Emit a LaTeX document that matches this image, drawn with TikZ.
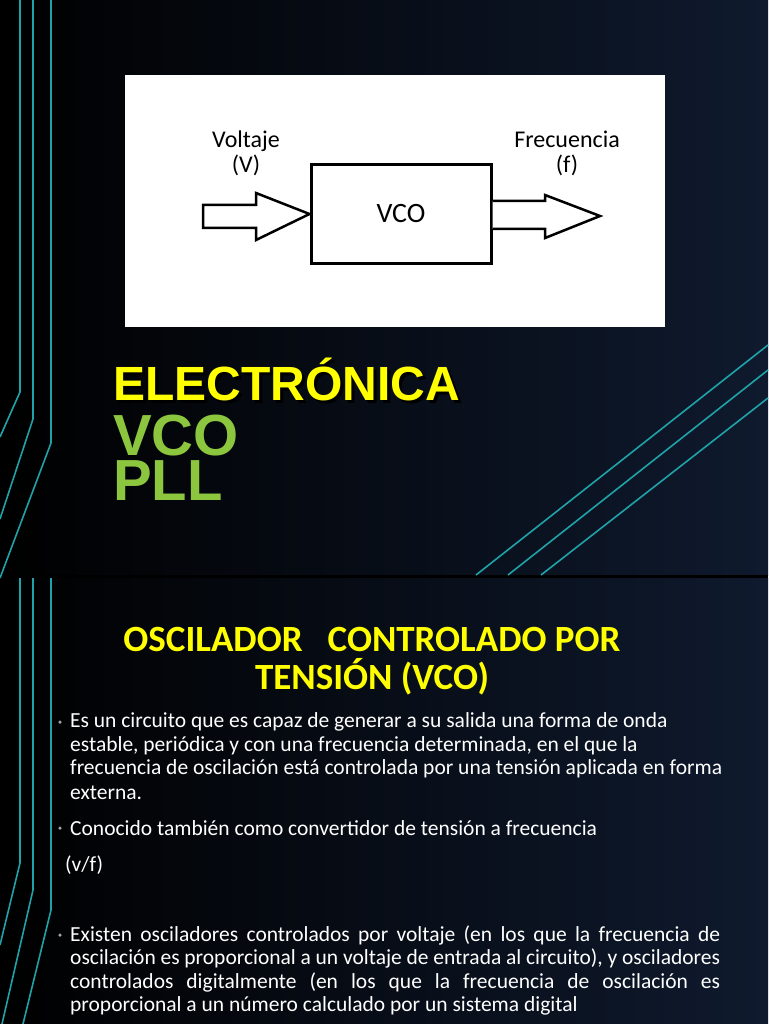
\documentclass[tikz,border=0pt]{standalone}
\usepackage{fontspec}
\setmainfont{Carlito}
\newfontfamily\heavy{Liberation Sans}
\definecolor{teal1}{HTML}{1FA3A8}
\definecolor{ylw}{HTML}{FFFF00}
\definecolor{grn}{HTML}{8CC63F}
\definecolor{bgR}{HTML}{0F1A2E}
\tikzset{
 deco/.style={teal1,line width=1.6pt},
 body/.style={anchor=west,text=white,font=\fontsize{21.5}{24}\selectfont,inner sep=0},
 bul/.style={circle,fill=gray!70,inner sep=0,minimum size=3.5pt},
 blk/.style={draw=black,line width=3pt,fill=white},
 lab/.style={font=\fontsize{24}{25}\selectfont,align=center,inner sep=0},
 ttl/.style={anchor=base west,inner sep=0,font=\heavy\bfseries\fontsize{48}{48}\selectfont},
 big/.style={anchor=base west,inner sep=0,text=grn,font=\heavy\bfseries\fontsize{58}{58}\selectfont},
}
\begin{document}
\begin{tikzpicture}[x=1pt,y=-1pt]
\useasboundingbox (0,0) rectangle (768,1024);
\shade[left color=black,right color=bgR] (0,0) rectangle (768,575);
\shade[left color=black,right color=bgR] (0,578) rectangle (768,1024);
\fill[black] (0,575) rectangle (768,578);
% slide 1 decorations
\draw[deco] (20,0) -- (20,392) -- (0,437);
\draw[deco] (33,0) -- (33,419) -- (0,519);
\draw[deco] (51,0) -- (51,443) -- (0,578);
\draw[deco] (476,575) -- (768,345);
\draw[deco] (508,575) -- (768,370);
\draw[deco] (541,575) -- (768,398);
% slide 2 decorations
\draw[deco] (20,578) -- (20,863) -- (0,945);
\draw[deco] (33,578) -- (33,890) -- (2,1024);
\draw[deco] (51,578) -- (51,910) -- (23,1024);
% diagram
\node[fill=white,minimum width=540,minimum height=252,inner sep=0,anchor=north west] (panel) at (125,75) {};
\node[blk,minimum width=180,minimum height=99,inner sep=0,font=\fontsize{28}{30}\selectfont] (vco) at (401,214) {VCO};
\draw[blk,line width=2.5pt,line join=miter] (203,205) -- (256,205) -- (256,193) -- (vco.west) -- (256,240) -- (256,228) -- (203,228) -- cycle;
\draw[blk,line width=2.5pt,line join=miter] (vco.east |- 0,201) -- (545,201) -- (545,195) -- (600,216) -- (545,238) -- (545,229) -- (vco.east |- 0,229);
\node[lab] (vin) at (246,153) {Voltaje\\(V)};
\node[lab] (fout) at (567,153) {Frecuencia\\(f)};
% titles
\node[ttl,text=black] (t1s) at (116,403) {ELECTRÓNICA};
\node[ttl,text=ylw] (t1) at (113,400) {ELECTRÓNICA};
\node[big] (t2) at (113,455) {VCO};
\node[big] (t3) at (113,500) {PLL};
% slide 2
\node[text=ylw,font=\bfseries\fontsize{37}{38}\selectfont,align=center,inner sep=0] (h) at (372,661) {OSCILADOR\ \ \ CONTROLADO POR\\TENSIÓN (VCO)};
\node[bul] (b1) at (60,722) {};
\node[body] (l1) at (70,722) {Es un circuito que es capaz de generar a su salida una forma de onda};
\node[body] (l2) at (70,746) {estable, periódica y con una frecuencia determinada, en el que la};
\node[body] (l3) at (70,769) {frecuencia de oscilación está controlada por una tensión aplicada en forma};
\node[body] (l4) at (70,793) {externa.};
\node[bul] (b2) at (60,828) {};
\node[body] (l5) at (70,828) {Conocido también como convertidor de tensión a frecuencia};
\node[body] (l6) at (65,865) {(v/f)};
\node[bul] (b3) at (60,935) {};
\node[body] (m1) at (70,935) {\makebox[650pt][s]{Existen osciladores controlados por voltaje (en los que la frecuencia de}};
\node[body] (m2) at (70,958) {\makebox[650pt][s]{oscilación es proporcional a un voltaje de entrada al circuito), y osciladores}};
\node[body] (m3) at (70,982) {\makebox[650pt][s]{controlados digitalmente (en los que la frecuencia de oscilación es}};
\node[body] (m4) at (70,1006) {proporcional a un número calculado por un sistema digital};
\end{tikzpicture}
\end{document}
